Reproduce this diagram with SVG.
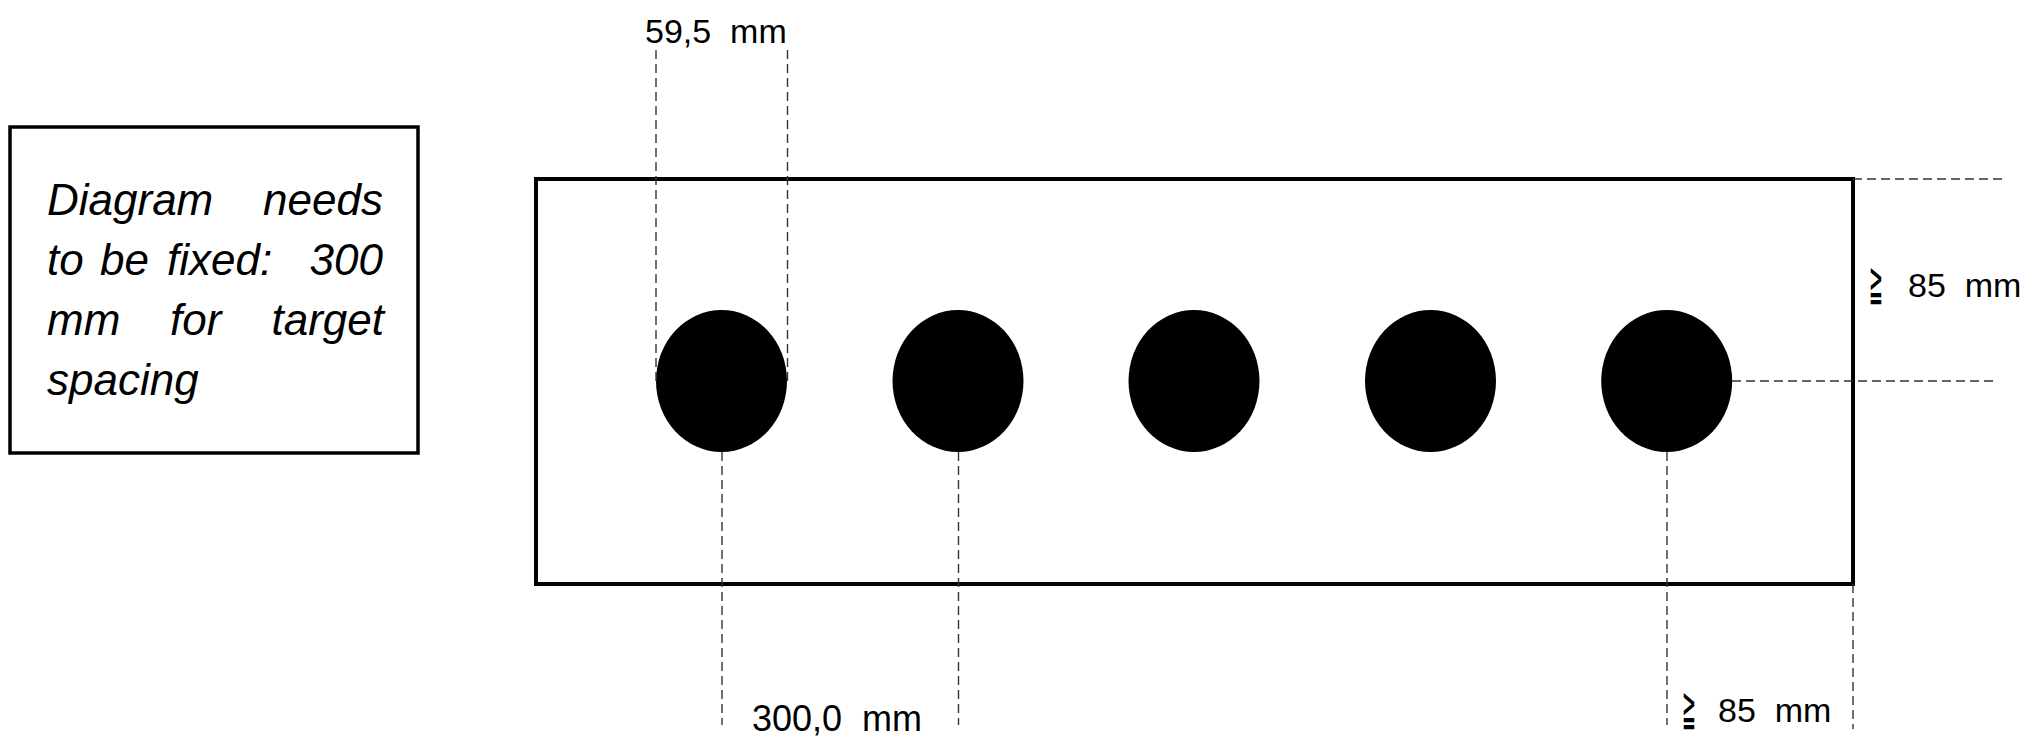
<svg xmlns="http://www.w3.org/2000/svg" width="2032" height="752" viewBox="0 0 2032 752">
<style>
.frame{fill:none;stroke:#000;stroke-width:4}
.note{fill:none;stroke:#000;stroke-width:3.5}
.dot{fill:#000}
.dim{fill:none;stroke:#333;stroke-width:1.4;stroke-dasharray:9 5}
.nt{font-family:"Liberation Sans",Arial,sans-serif;font-style:italic;font-size:44px;fill:#000}
.lbl{font-family:"Liberation Sans",Arial,sans-serif;font-size:34px;fill:#000}
.sym{font-family:"DejaVu Sans",sans-serif;font-size:50px;fill:#000}
</style>
<rect width="2032" height="752" fill="#fff"/>
<g id="note">
<rect class="note" x="10" y="127" width="408" height="326"/>
<text class="nt" y="215"><tspan x="47">Diagram</tspan><tspan x="383" text-anchor="end">needs</tspan></text>
<text class="nt" y="275"><tspan x="47">to</tspan><tspan x="100">be</tspan><tspan x="167">fixed:</tspan></text>
<text class="nt" y="275" x="383" text-anchor="end">300</text>
<text class="nt" y="335"><tspan x="47">mm</tspan><tspan x="170">for</tspan></text>
<text class="nt" y="335" x="384" text-anchor="end">target</text>
<text class="nt" y="395" x="47">spacing</text>
</g>
<g id="plate">
<rect class="frame" x="536" y="179" width="1317" height="405"/>
</g>
<g id="holes">
<ellipse id="hole1" class="dot" cx="721.5" cy="381" rx="65.5" ry="71"/>
<ellipse id="hole2" class="dot" cx="958" cy="381" rx="65.5" ry="71"/>
<ellipse id="hole3" class="dot" cx="1194" cy="381" rx="65.5" ry="71"/>
<ellipse id="hole4" class="dot" cx="1430.5" cy="381" rx="65.5" ry="71"/>
<ellipse id="hole5" class="dot" cx="1666.7" cy="381" rx="65.5" ry="71"/>
</g>
<g id="connectors">
<line class="dim" x1="656" y1="50" x2="656" y2="381"/>
<line class="dim" x1="787.5" y1="50" x2="787.5" y2="381"/>
<line class="dim" x1="722" y1="452" x2="722" y2="725"/>
<line class="dim" x1="958.5" y1="452" x2="958.5" y2="725"/>
<line class="dim" x1="1667" y1="452" x2="1667" y2="725"/>
<line class="dim" x1="1853" y1="584" x2="1853" y2="729"/>
<line class="dim" x1="1853" y1="179" x2="2002" y2="179"/>
<line class="dim" x1="1732" y1="381" x2="1997" y2="381"/>
</g>
<g id="labels">
<text class="lbl" x="645" y="43" xml:space="preserve">59,5  mm</text>
<text class="lbl" x="752" y="731" style="font-size:36px" xml:space="preserve">300,0  mm</text>
<text class="sym" x="1869" y="300" textLength="14" lengthAdjust="spacingAndGlyphs">≧</text>
<text class="lbl" x="1908" y="297" xml:space="preserve">85  mm</text>
<text class="sym" x="1682" y="725" textLength="14" lengthAdjust="spacingAndGlyphs">≧</text>
<text class="lbl" x="1718" y="722" xml:space="preserve">85  mm</text>
</g>
</svg>
